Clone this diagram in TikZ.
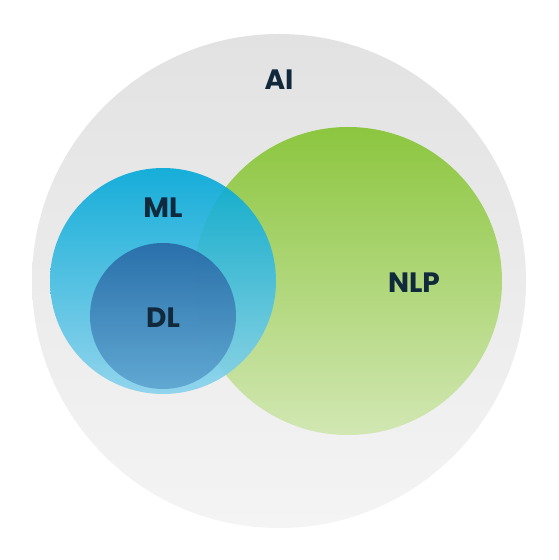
\documentclass[tikz,border=0pt]{standalone}
\usepackage{fontspec}
\setmainfont{Poppins}
\usetikzlibrary{positioning}
\definecolor{aigrey}{HTML}{E2E2E2}
\definecolor{aigreylt}{HTML}{F4F4F4}
\definecolor{nlpgreen}{HTML}{8CC63F}
\definecolor{nlpgreenlt}{HTML}{D2E7B3}
\definecolor{mlblue}{HTML}{00A8D8}
\definecolor{mlbluemid}{HTML}{10B0DC}
\definecolor{mlbluelt}{HTML}{88D2EC}
\definecolor{dlblue}{HTML}{2766A4}
\definecolor{dlbluelt}{HTML}{5BA3D0}
\definecolor{labelnavy}{HTML}{10293D}

\begin{document}
\begin{tikzpicture}[
    x=1pt, y=1pt,
    field/.style={circle, inner sep=0pt, shading=axis, shading angle=0},
    lbl/.style={font=\fontsize{28}{30}\selectfont\bfseries, text=labelnavy},
  ]
  \fill[white] (0,0) rectangle (558,560);
  \useasboundingbox (0,0) rectangle (558,560);

  % circles
  \node[field, minimum size=494pt, top color=aigrey, bottom color=aigreylt]
    (ai) at (279,279) {};
  \node[field, minimum size=308pt, top color=nlpgreen, bottom color=nlpgreenlt]
    (nlp) at (348,279) {};
  \node[field, minimum size=226pt, top color=mlblue, middle color=mlbluemid,
        bottom color=mlbluelt, fill opacity=0.9] (ml) at (163,279) {};
  \node[field, minimum size=146pt, top color=dlblue, bottom color=dlbluelt,
        fill opacity=0.88] (dl) at (163,244) {};

  % labels
  \node[lbl] (ailbl)  at (279,480) {AI};
  \node[lbl] (mllbl)  at (163,352) {ML};
  \node[lbl] (dllbl)  at (163,242) {DL};
  \node[lbl] (nlplbl) at (414,277) {NLP};
\end{tikzpicture}
\end{document}
